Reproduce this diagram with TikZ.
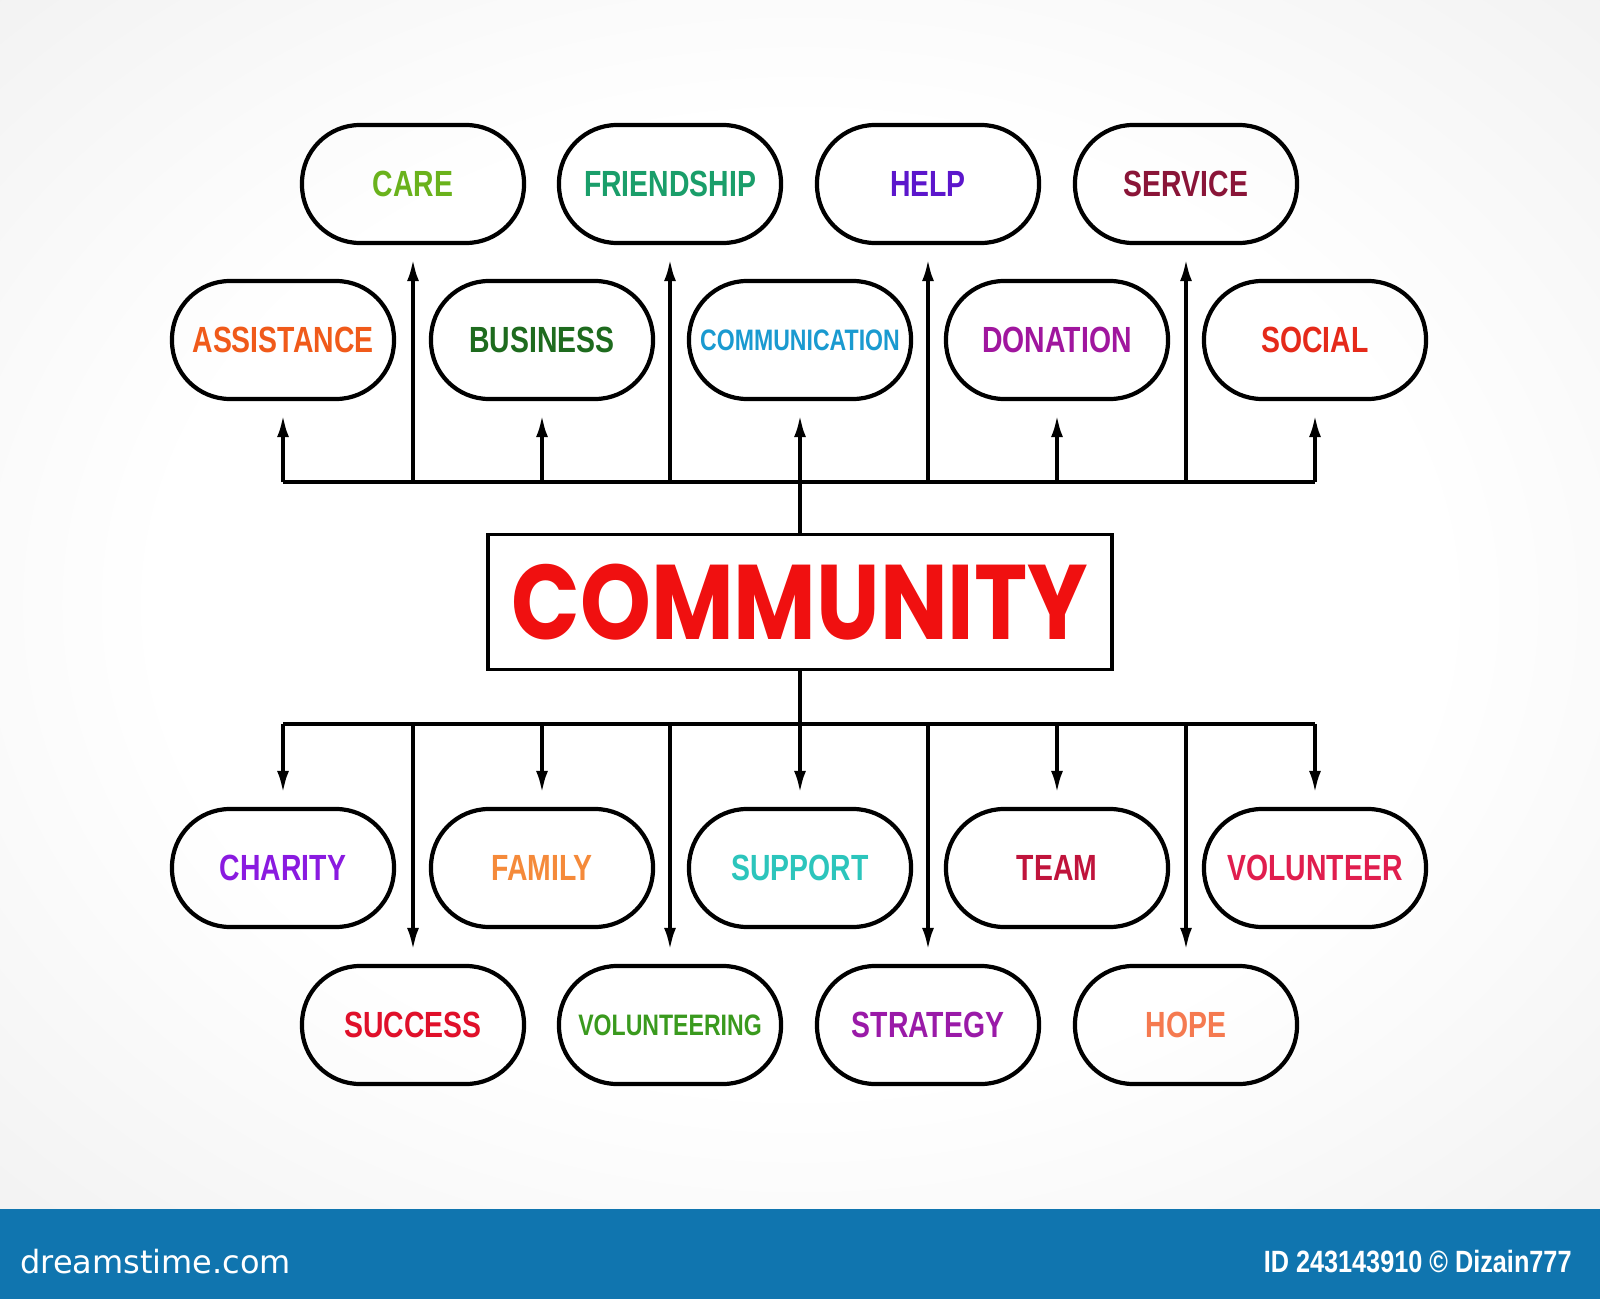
\documentclass[tikz,border=0pt]{standalone}
\usepackage{fontspec}
\setmainfont{Liberation Sans}
\newfontfamily\lblfont{Liberation Sans}[FakeStretch=0.78]
\newfontfamily\titlefont{Poppins}[FakeStretch=0.85]
\newfontfamily\brandfont{DejaVu Sans}
\newfontfamily\creditfont{Liberation Sans}[FakeStretch=0.82]
\usetikzlibrary{arrows.meta}
\definecolor{footblue}{RGB}{16,117,175}
\definecolor{cCare}{RGB}{106,178,28}
\definecolor{cFriend}{RGB}{26,158,106}
\definecolor{cHelp}{RGB}{92,22,204}
\definecolor{cService}{RGB}{138,21,56}
\definecolor{cAssist}{RGB}{240,90,26}
\definecolor{cBusiness}{RGB}{30,107,30}
\definecolor{cComm}{RGB}{26,154,208}
\definecolor{cDonation}{RGB}{160,22,158}
\definecolor{cSocial}{RGB}{229,42,26}
\definecolor{cCharity}{RGB}{138,26,224}
\definecolor{cFamily}{RGB}{245,138,58}
\definecolor{cSupport}{RGB}{44,197,188}
\definecolor{cTeam}{RGB}{192,20,60}
\definecolor{cVolunteer}{RGB}{224,30,78}
\definecolor{cSuccess}{RGB}{224,16,42}
\definecolor{cVolunteering}{RGB}{58,154,30}
\definecolor{cStrategy}{RGB}{154,26,168}
\definecolor{cHope}{RGB}{245,122,80}
\definecolor{cCommunity}{RGB}{240,16,16}
\pgfdeclareradialshading{bgshade}{\pgfpoint{0bp}{0bp}}{color(0bp)=(white); color(20bp)=(white); color(45bp)=(black!8); color(71bp)=(black!13)}
\begin{document}
\begin{tikzpicture}[x=0.5pt,y=-0.5pt,
  pill/.style={draw=black, line width=2.1pt, rounded corners=29pt, minimum width=111pt,
    minimum height=59pt, inner sep=0pt, font=\lblfont\bfseries\fontsize{18.2}{20}\selectfont},
  smalltxt/.style={font=\lblfont\bfseries\fontsize{14.8}{16}\selectfont},
  conn/.style={line width=1.8pt, draw=black},
  arr/.style={conn, -{Latex[length=11pt,width=6pt]}, shorten >=7pt}
]
\useasboundingbox (0,0) rectangle (1600,1299);
% background
\shade[shading=bgshade] (0,0) rectangle (1600,1209);
\fill[footblue] (0,1209) rectangle (1600,1299);

% central box
\node[draw=black, line width=1.6pt, minimum width=312pt, minimum height=67.5pt, inner sep=0pt,
  text=cCommunity, font=\titlefont\bfseries\fontsize{53}{60}\selectfont] (community) at (800,602) {COMMUNITY};

% top rows
\node[pill, text=cCare] (care) at (413,184) {CARE};
\node[pill, text=cFriend] (friendship) at (670,184) {FRIENDSHIP};
\node[pill, text=cHelp] (help) at (928,184) {HELP};
\node[pill, text=cService] (service) at (1186,184) {SERVICE};

\node[pill, text=cAssist] (assistance) at (283,340) {ASSISTANCE};
\node[pill, text=cBusiness] (business) at (542,340) {BUSINESS};
\node[pill, smalltxt, text=cComm] (communication) at (800,340) {COMMUNICATION};
\node[pill, text=cDonation] (donation) at (1057,340) {DONATION};
\node[pill, text=cSocial] (social) at (1315,340) {SOCIAL};

% bottom rows
\node[pill, text=cCharity] (charity) at (283,868) {CHARITY};
\node[pill, text=cFamily] (family) at (542,868) {FAMILY};
\node[pill, text=cSupport] (support) at (800,868) {SUPPORT};
\node[pill, text=cTeam] (team) at (1057,868) {TEAM};
\node[pill, text=cVolunteer] (volunteer) at (1315,868) {VOLUNTEER};

\node[pill, text=cSuccess] (success) at (413,1025) {SUCCESS};
\node[pill, smalltxt, text=cVolunteering] (volunteering) at (670,1025) {VOLUNTEERING};
\node[pill, text=cStrategy] (strategy) at (928,1025) {STRATEGY};
\node[pill, text=cHope] (hope) at (1186,1025) {HOPE};

% upper bus
\coordinate (ua) at (283,482);
\coordinate (ub) at (413,482);
\coordinate (uc) at (542,482);
\coordinate (ud) at (670,482);
\coordinate (ue) at (800,482);
\coordinate (uf) at (928,482);
\coordinate (ug) at (1057,482);
\coordinate (uh) at (1186,482);
\coordinate (ui) at (1315,482);
\draw[conn] (ua) -- (ui);
\draw[conn] (community.north) -- (ue);
\draw[arr] (ua) -- (assistance.south);
\draw[arr] (ub) -- (care.south);
\draw[arr] (uc) -- (business.south);
\draw[arr] (ud) -- (friendship.south);
\draw[arr] (ue) -- (communication.south);
\draw[arr] (uf) -- (help.south);
\draw[arr] (ug) -- (donation.south);
\draw[arr] (uh) -- (service.south);
\draw[arr] (ui) -- (social.south);

% lower bus
\coordinate (la) at (283,724);
\coordinate (lb) at (413,724);
\coordinate (lc) at (542,724);
\coordinate (ld) at (670,724);
\coordinate (le) at (800,724);
\coordinate (lf) at (928,724);
\coordinate (lg) at (1057,724);
\coordinate (lh) at (1186,724);
\coordinate (li) at (1315,724);
\draw[conn] (la) -- (li);
\draw[conn] (community.south) -- (le);
\draw[arr] (la) -- (charity.north);
\draw[arr] (lb) -- (success.north);
\draw[arr] (lc) -- (family.north);
\draw[arr] (ld) -- (volunteering.north);
\draw[arr] (le) -- (support.north);
\draw[arr] (lf) -- (strategy.north);
\draw[arr] (lg) -- (team.north);
\draw[arr] (lh) -- (hope.north);
\draw[arr] (li) -- (volunteer.north);

% footer
\node[anchor=west, text=white, inner sep=0pt, font=\brandfont\fontsize{16}{18}\selectfont] (brand) at (20,1262) {dreamstime.com};
\node[anchor=east, text=white, inner sep=0pt, font=\creditfont\bfseries\fontsize{15.4}{17}\selectfont] (credit) at (1572,1262) {ID 243143910 © Dizain777};
\end{tikzpicture}
\end{document}
